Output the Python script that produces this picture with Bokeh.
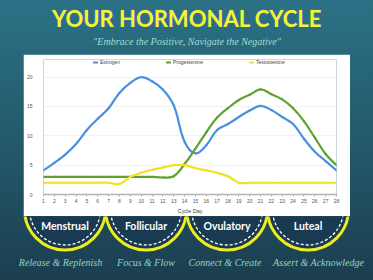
import numpy as np
from bokeh.plotting import figure
from bokeh.models import Range1d, Legend, LegendItem, FixedTicker, Spacer, ColumnDataSource
from bokeh.layouts import column, row
from bokeh.embed import file_html
from bokeh.resources import INLINE
from bokeh.core.properties import value

# ---------------- data ----------------
days = list(range(1, 29))
estrogen = [4.1, 5.4, 6.8, 8.6, 11.0, 12.9, 14.7, 17.3, 19.0, 20.0, 19.3, 17.9, 15.2, 9.0,
            7.0, 8.4, 11.0, 12.0, 13.2, 14.3, 15.1, 14.4, 13.2, 12.0, 9.5, 7.3, 5.7, 4.1]
progesterone = [3.0, 3.0, 3.0, 3.0, 3.0, 3.0, 3.0, 3.0, 3.0, 3.0, 3.0, 2.9, 3.1, 5.2,
                7.8, 10.6, 13.1, 14.7, 16.1, 17.0, 17.9, 17.1, 16.2, 14.7, 12.5, 9.7, 6.9, 5.0]
testosterone = [2.0, 2.0, 2.0, 2.0, 2.0, 2.0, 2.0, 1.8, 3.0, 3.7, 4.2, 4.6, 5.0, 5.0,
                4.5, 4.1, 3.7, 3.1, 2.0, 2.0, 2.0, 2.0, 2.0, 2.0, 2.0, 2.0, 2.0, 2.0]
y_ticks = [0, 5, 10, 15, 20]
series_names = ["Estrogen", "Progesterone", "Testosterone"]
series_colors = ["#4a90e2", "#5fa22f", "#f2e21e"]

title_text = "YOUR HORMONAL CYCLE"
subtitle_text = "\"Embrace the Positive, Navigate the Negative\""
phases = ["Menstrual", "Follicular", "Ovulatory", "Luteal"]
taglines = ["Release & Replenish", "Focus & Flow", "Connect & Create", "Assert & Acknowledge"]

W = 373


def smooth_segments(xs, ys, tension=0.4, sx=10.9, sy=6.0):
    """Chart.js-style curve: one cubic Bezier per pair of neighbouring data points."""
    x = np.asarray(xs, float)
    y = np.asarray(ys, float)
    n = len(x)
    px, py = x.copy(), y.copy()   # incoming control points
    nx, ny = x.copy(), y.copy()   # outgoing control points
    for i in range(1, n - 1):
        d01 = np.hypot((x[i] - x[i - 1]) * sx, (y[i] - y[i - 1]) * sy)
        d12 = np.hypot((x[i + 1] - x[i]) * sx, (y[i + 1] - y[i]) * sy)
        s = d01 + d12
        fa, fb = tension * d01 / s, tension * d12 / s
        px[i] = x[i] - fa * (x[i + 1] - x[i - 1])
        py[i] = y[i] - fa * (y[i + 1] - y[i - 1])
        nx[i] = x[i] + fb * (x[i + 1] - x[i - 1])
        ny[i] = y[i] + fb * (y[i + 1] - y[i - 1])
    return dict(x0=x[:-1], y0=y[:-1], x1=x[1:], y1=y[1:],
                cx0=nx[:-1], cy0=ny[:-1], cx1=px[1:], cy1=py[1:])


def plain(height, y0, y1):
    f = figure(frame_width=W, frame_height=height, x_range=Range1d(0, W), y_range=Range1d(y0, y1),
               toolbar_location=None, output_backend="svg", min_border=0,
               min_border_left=0, min_border_right=0, min_border_top=0, min_border_bottom=0,
               x_axis_location=None, y_axis_location=None,
               background_fill_color=None, border_fill_color=None, outline_line_color=None)
    f.grid.visible = False
    return f


# ---------------- header ----------------
hdr = plain(54, 54, 0)
for dx, dy in [(-0.8, 0), (0.8, 0), (0, -0.8), (0, 0.8)]:
    hdr.text(x=[W / 2 + dx], y=[17.5 + dy], text=[title_text], text_font=value("Lato"),
             text_font_style="bold", text_font_size="22px", text_color="#3a6cc4",
             text_align="center", text_baseline="middle")
hdr.text(x=[W / 2], y=[17.5], text=[title_text], text_font=value("Lato"),
         text_font_style="bold", text_font_size="22px", text_color="#f6f626",
         text_align="center", text_baseline="middle")
hdr.text(x=[W / 2], y=[41], text=[subtitle_text], text_font=value("Liberation Serif"),
         text_font_style="italic", text_font_size="10px", text_color="#a2dccf",
         text_align="center", text_baseline="middle")

# ---------------- chart ----------------
p = figure(width=327, height=162, x_range=Range1d(1, 28), y_range=Range1d(0, 23),
           toolbar_location=None, output_backend="svg",
           min_border_left=19, min_border_right=14, min_border_top=5, min_border_bottom=19,
           background_fill_color="white", border_fill_color="white", outline_line_color=None)

renderers = []
for vals, col in zip([estrogen, progesterone, testosterone], series_colors):
    src = ColumnDataSource(smooth_segments(days, vals))
    r = p.bezier(x0="x0", y0="y0", x1="x1", y1="y1", cx0="cx0", cy0="cy0", cx1="cx1", cy1="cy1",
                 source=src, line_color=col, line_width=2.2, line_cap="round")
    renderers.append(r)

p.xgrid.visible = False
p.ygrid.ticker = FixedTicker(ticks=y_ticks[1:])
p.ygrid.grid_line_color = "#ededed"
p.ygrid.grid_line_width = 0.8

p.xaxis.ticker = FixedTicker(ticks=days)
p.xaxis.axis_line_color = "#b3b3b3"
p.xaxis.axis_line_width = 1.5
p.xaxis.major_tick_line_color = "#b3b3b3"
p.xaxis.major_tick_in = 0
p.xaxis.major_tick_out = 2
p.xaxis.minor_tick_line_color = None
p.xaxis.major_label_text_font = "Liberation Sans"
p.xaxis.major_label_text_font_size = "5px"
p.xaxis.major_label_text_color = "#555555"
p.xaxis.major_label_standoff = 2
p.xaxis.axis_label = "Cycle Day"
p.xaxis.axis_label_text_font = "Liberation Sans"
p.xaxis.axis_label_text_font_size = "5.5px"
p.xaxis.axis_label_text_font_style = "normal"
p.xaxis.axis_label_text_color = "#444444"
p.xaxis.axis_label_standoff = 2

p.yaxis.ticker = FixedTicker(ticks=y_ticks)
p.yaxis.axis_line_color = None
p.yaxis.major_tick_line_color = None
p.yaxis.minor_tick_line_color = None
p.yaxis.major_label_text_font = "Liberation Sans"
p.yaxis.major_label_text_font_size = "5px"
p.yaxis.major_label_text_color = "#555555"
p.yaxis.major_label_standoff = 5

legend = Legend(items=[LegendItem(label=n, renderers=[r]) for n, r in zip(series_names, renderers)],
                location=(50, 129), orientation="horizontal", spacing=46,
                glyph_width=5, glyph_height=6, label_standoff=2, label_height=6,
                label_text_font="Liberation Sans", label_text_font_size="5px",
                label_text_color="#444444", padding=0, margin=0,
                border_line_color=None, background_fill_alpha=0)
p.add_layout(legend, "center")

# ---------------- footer ----------------
ft = plain(64, 280, 216)
cx = [64.5 + 81 * i for i in range(len(phases))]
cy = [209] * len(phases)
ft.circle(x=cx, y=cy, radius=40.5, fill_color="#1a3a52", line_color="#ecec1e", line_width=3)
ft.circle(x=cx, y=cy, radius=35.5, fill_color=None, line_color="white", line_width=1.3,
          line_dash="3 2")
ft.text(x=cx, y=[225.5] * len(phases), text=phases, text_font=value("Lato"),
        text_font_style="bold", text_font_size="10.5px", text_color="white",
        text_align="center", text_baseline="middle")
tag_x = [60, 145.5, 224.5, 318]
ft.text(x=tag_x, y=[262] * len(taglines), text=taglines, text_font=value("Liberation Serif"),
        text_font_style="italic", text_font_size="10px", text_color="#8fd4c4",
        text_align="center", text_baseline="middle")

mid = row(Spacer(width=23, height=162), p, Spacer(width=23, height=162), spacing=0)
layout = column(hdr, mid, ft, spacing=0,
                styles={"background": "linear-gradient(180deg, #2c7185 0%, #235a6c 50%, #1b3e4f 100%)"})

open("out.html", "w").write(file_html(layout, INLINE))
